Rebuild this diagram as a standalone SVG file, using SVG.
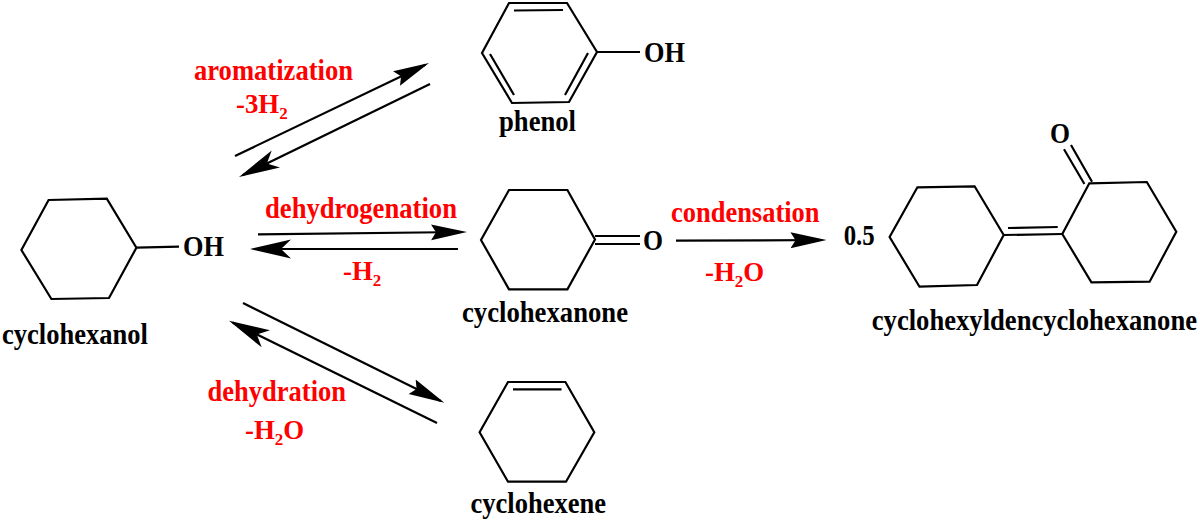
<svg xmlns="http://www.w3.org/2000/svg" width="1200" height="522" viewBox="0 0 1200 522">
<style>
text{font-family:"Liberation Serif","Times New Roman",serif;font-weight:bold;font-size:29px;fill:#000}
.r{fill:#f00}
.f{font-size:26.8px}
.b{fill:none;stroke:#000;stroke-width:2.2;stroke-linejoin:miter}
.a{fill:none;stroke:#000;stroke-width:2.2}
.s{marker-end:url(#hs)}
.l{marker-end:url(#hl)}
</style>
<defs>
<marker id="hs" markerUnits="userSpaceOnUse" markerWidth="42" markerHeight="20" refX="32" refY="9" orient="auto"><path d="M0 1L36 9L0 17L5 9Z" fill="#000"/></marker>
<marker id="hl" markerUnits="userSpaceOnUse" markerWidth="46" markerHeight="22" refX="37" refY="10" orient="auto"><path d="M0 0.500L41 10L0 19.500L10 10Z" fill="#000"/></marker>
</defs>
<rect width="1200" height="522" fill="#fff"/>
<g id="connectors">
<line class="a s" x1="235" y1="156" x2="425.4" y2="64.7"/>
<line class="a l" x1="430" y1="84" x2="242.6" y2="175.2"/>
<line class="a s" x1="258" y1="234.3" x2="463" y2="232"/>
<line class="a l" x1="458" y1="249" x2="254" y2="249"/>
<line class="a s" x1="243" y1="303" x2="440.8" y2="400.9"/>
<line class="a l" x1="437" y1="423" x2="232.6" y2="322.5"/>
<line class="a s" x1="676" y1="240.7" x2="822.5" y2="240"/>
</g>
<g id="cyclohexanol">
<polygon class="b" points="48.6,200 106.8,198.7 136.4,247.7 109,298 51.4,299 21.4,250"/>
<line class="b" x1="136.4" y1="247.7" x2="179" y2="246.7"/>
<text x="183" y="256" textLength="41" lengthAdjust="spacingAndGlyphs">OH</text>
<text x="2" y="344" textLength="146" lengthAdjust="spacingAndGlyphs">cyclohexanol</text>
</g>
<g id="phenol">
<polygon class="b" points="509,3 567,3 597,52 569,102 512,103 482,53"/>
<path class="b" d="M514 10.500L563 10M490 54L514 95M588 53L565 95M597 52H640"/>
<text x="644" y="62" textLength="41" lengthAdjust="spacingAndGlyphs">OH</text>
<text x="499" y="131" textLength="77" lengthAdjust="spacingAndGlyphs">phenol</text>
</g>
<g id="cyclohexanone">
<polygon class="b" points="509,190 567.400,190 595,239.500 567.400,289.300 509,289.300 481,240"/>
<path class="b" d="M595 236H640M595 244H640"/>
<text x="643" y="250" textLength="20" lengthAdjust="spacingAndGlyphs">O</text>
<text x="462" y="322" textLength="166" lengthAdjust="spacingAndGlyphs">cyclohexanone</text>
</g>
<g id="cyclohexene">
<polygon class="b" points="508,382 565.400,382 594.300,432.300 566,481.700 508,481.700 479.600,432.300"/>
<line class="b" x1="513" y1="389.300" x2="561.500" y2="389.300"/>
<text x="470.500" y="513" textLength="135.500" lengthAdjust="spacingAndGlyphs">cyclohexene</text>
</g>
<g id="cyclohexyldencyclohexanone">
<text x="843.700" y="245" textLength="31" lengthAdjust="spacingAndGlyphs">0.5</text>
<polygon class="b" points="917.400,187.300 974.600,186.300 1003.700,235 977,285 919.500,286.700 889.600,237"/>
<polygon class="b" points="1089.300,183.300 1146.800,182 1176.300,231.700 1149.600,281.700 1091.400,282.300 1062.300,234"/>
<path class="b" d="M1003.700 235L1062.300 234M1008 228L1057.700 227M1084.400 184L1064 149.300M1092 181.700L1071 145"/>
<text x="1050" y="143" textLength="20" lengthAdjust="spacingAndGlyphs">O</text>
<text class="f" transform="translate(871.800 330) scale(1 1.08)" x="0" y="0" textLength="325.200" lengthAdjust="spacingAndGlyphs">cyclohexyldencyclohexanone</text>
</g>
<g id="labels">
<text class="r" x="194" y="80" textLength="159" lengthAdjust="spacingAndGlyphs">aromatization</text>
<text class="r f" x="236" y="113">-3H<tspan font-size="17" dy="6">2</tspan></text>
<text class="r" x="265" y="218" textLength="192" lengthAdjust="spacingAndGlyphs">dehydrogenation</text>
<text class="r f" x="343" y="280">-H<tspan font-size="17" dy="6">2</tspan></text>
<text class="r" x="207.600" y="401" textLength="138.400" lengthAdjust="spacingAndGlyphs">dehydration</text>
<text class="r f" x="245" y="439">-H<tspan font-size="17" dy="6">2</tspan><tspan dy="-6">O</tspan></text>
<text class="r" x="671" y="222" textLength="148.500" lengthAdjust="spacingAndGlyphs">condensation</text>
<text class="r f" x="705" y="281">-H<tspan font-size="17" dy="6">2</tspan><tspan dy="-6">O</tspan></text>
</g>
</svg>
